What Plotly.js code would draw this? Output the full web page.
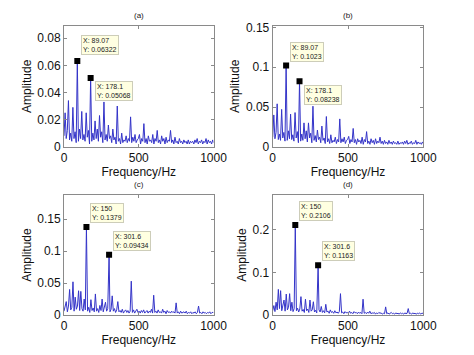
<!DOCTYPE html>
<html>
<head>
<meta charset="utf-8">
<script src="https://cdn.plot.ly/plotly-3.0.1.min.js"></script>
<style>html,body{margin:0;padding:0;background:#fff;}#chart{width:474px;height:355px;}</style>
</head>
<body>
<div id="chart"></div>
<script>
// Frequency grids (Hz)
var freqAB = [0,7.4,14.8,22.3,29.7,37.1,44.5,52.0,59.4,66.8,74.2,81.6,89.07,96.5,103.9,111.3,118.8,126.2,133.6,141.0,148.5,155.9,163.3,170.7,178.1,185.6,193.0,200.4,207.8,215.3,222.7,230.1,237.5,244.9,252.4,259.8,267.2,274.6,282.1,289.5,296.9,304.3,311.7,319.2,326.6,334.0,341.4,348.9,356.3,363.7,371.1,378.5,386.0,393.4,400.8,408.2,415.7,423.1,430.5,437.9,445.4,452.8,460.2,467.6,475.0,482.5,489.9,497.3,504.7,512.2,519.6,527.0,534.4,541.8,549.3,556.7,564.1,571.5,579.0,586.4,593.8,601.2,608.6,616.1,623.5,630.9,638.3,645.8,653.2,660.6,668.0,675.4,682.9,690.3,697.7,705.1,712.6,720.0,727.4,734.8,742.3,749.7,757.1,764.5,771.9,779.4,786.8,794.2,801.6,809.1,816.5,823.9,831.3,838.7,846.2,853.6,861.0,868.4,875.9,883.3,890.7,898.1,905.5,913.0,920.4,927.8,935.2,942.7,950.1,957.5,964.9,972.3,979.8,987.2,994.6,1000];
var ampA = [0.008,0.025,0.006,0.012,0.034,0.005,0.010,0.004,0.029,0.006,0.011,0.003,0.06322,0.004,0.013,0.006,0.026,0.005,0.009,0.004,0.025,0.007,0.012,0.002,0.05068,0.004,0.010,0.005,0.019,0.006,0.013,0.004,0.023,0.007,0.011,0.003,0.033,0.005,0.009,0.004,0.016,0.006,0.008,0.003,0.013,0.005,0.007,0.002,0.030,0.004,0.006,0.002,0.010,0.003,0.005,0.004,0.008,0.003,0.006,0.004,0.022,0.003,0.007,0.004,0.009,0.003,0.005,0.006,0.009,0.002,0.006,0.004,0.017,0.003,0.006,0.002,0.008,0.004,0.005,0.003,0.009,0.002,0.006,0.004,0.012,0.003,0.005,0.002,0.008,0.004,0.006,0.002,0.007,0.003,0.005,0.004,0.012,0.003,0.005,0.002,0.007,0.003,0.004,0.002,0.006,0.003,0.004,0.002,0.005,0.003,0.004,0.002,0.005,0.002,0.004,0.003,0.004,0.002,0.005,0.003,0.006,0.002,0.004,0.003,0.005,0.002,0.004,0.003,0.006,0.002,0.005,0.003,0.004,0.002,0.005,0.003];
var ampB = [0.012,0.040,0.010,0.018,0.054,0.009,0.016,0.008,0.047,0.011,0.018,0.007,0.1023,0.008,0.020,0.010,0.041,0.009,0.015,0.007,0.043,0.011,0.019,0.005,0.08238,0.007,0.016,0.008,0.030,0.010,0.020,0.006,0.030,0.011,0.017,0.005,0.051,0.008,0.014,0.006,0.021,0.009,0.012,0.005,0.026,0.008,0.011,0.004,0.038,0.006,0.010,0.004,0.015,0.005,0.008,0.006,0.012,0.004,0.009,0.006,0.035,0.005,0.010,0.006,0.012,0.004,0.008,0.009,0.013,0.004,0.009,0.006,0.023,0.005,0.009,0.003,0.010,0.006,0.008,0.004,0.012,0.003,0.009,0.006,0.019,0.004,0.007,0.003,0.010,0.005,0.008,0.003,0.010,0.004,0.007,0.005,0.012,0.004,0.007,0.003,0.008,0.004,0.006,0.003,0.008,0.004,0.006,0.003,0.007,0.004,0.005,0.003,0.007,0.003,0.005,0.004,0.006,0.003,0.007,0.004,0.008,0.003,0.005,0.004,0.007,0.003,0.005,0.004,0.008,0.003,0.006,0.004,0.005,0.003,0.006,0.004];
var freqCD = [0,7.5,15,22.5,30,37.5,45,52.5,60,67.5,75,82.5,90,97.5,105,112.5,120,127.5,135,142.5,150,157.5,165,172.5,180,187.5,195,202.5,210,217.5,225,232.5,240,247.5,255,262.5,270,277.5,285,292.5,301.6,307.5,315,322.5,330,337.5,345,352.5,360,367.5,375,382.5,390,397.5,405,412.5,420,427.5,435,442.5,450,457.5,465,472.5,480,487.5,495,502.5,510,517.5,525,532.5,540,547.5,555,562.5,570,577.5,585,592.5,600,607.5,615,622.5,630,637.5,645,652.5,660,667.5,675,682.5,690,697.5,705,712.5,720,727.5,735,742.5,750,757.5,765,772.5,780,787.5,795,802.5,810,817.5,825,832.5,840,847.5,855,862.5,870,877.5,885,892.5,900,907.5,915,922.5,930,937.5,945,952.5,960,967.5,975,982.5,990,997.5,1000];
var ampC = [0.006,0.012,0.021,0.005,0.014,0.040,0.008,0.012,0.052,0.006,0.028,0.009,0.014,0.038,0.007,0.037,0.010,0.006,0.025,0.008,0.1379,0.006,0.012,0.004,0.024,0.007,0.011,0.005,0.033,0.006,0.010,0.004,0.015,0.007,0.025,0.005,0.012,0.020,0.006,0.010,0.09434,0.005,0.009,0.030,0.006,0.010,0.004,0.008,0.021,0.005,0.007,0.004,0.009,0.003,0.006,0.008,0.004,0.007,0.003,0.006,0.053,0.004,0.008,0.003,0.006,0.009,0.004,0.006,0.003,0.007,0.004,0.008,0.003,0.005,0.007,0.003,0.006,0.004,0.009,0.003,0.031,0.004,0.006,0.003,0.008,0.004,0.005,0.003,0.009,0.004,0.006,0.002,0.007,0.004,0.005,0.003,0.006,0.004,0.005,0.003,0.019,0.003,0.005,0.002,0.006,0.003,0.004,0.005,0.003,0.006,0.002,0.004,0.003,0.005,0.002,0.004,0.003,0.005,0.002,0.004,0.014,0.003,0.004,0.002,0.005,0.003,0.004,0.002,0.004,0.003,0.005,0.002,0.004,0.003,0.004];
var ampD = [0.010,0.022,0.008,0.030,0.012,0.060,0.015,0.057,0.010,0.020,0.035,0.009,0.049,0.012,0.018,0.050,0.010,0.030,0.008,0.015,0.2106,0.010,0.016,0.007,0.014,0.043,0.009,0.013,0.006,0.037,0.010,0.014,0.006,0.035,0.009,0.012,0.031,0.007,0.011,0.005,0.1163,0.012,0.007,0.020,0.006,0.010,0.005,0.025,0.007,0.009,0.004,0.012,0.006,0.008,0.004,0.010,0.005,0.007,0.004,0.008,0.050,0.005,0.007,0.003,0.008,0.005,0.006,0.004,0.009,0.004,0.006,0.003,0.008,0.005,0.006,0.003,0.007,0.004,0.006,0.003,0.037,0.004,0.006,0.003,0.007,0.004,0.009,0.003,0.005,0.004,0.006,0.002,0.005,0.003,0.006,0.004,0.005,0.002,0.004,0.003,0.019,0.003,0.005,0.002,0.004,0.006,0.003,0.004,0.002,0.005,0.003,0.004,0.002,0.005,0.003,0.004,0.002,0.005,0.003,0.004,0.015,0.003,0.004,0.002,0.005,0.003,0.004,0.002,0.004,0.003,0.005,0.002,0.004,0.003,0.004];

// Data cursor points
var tipXA = [89.07, 178.1], tipYA = [0.06322, 0.05068];
var tipXB = [89.07, 178.1], tipYB = [0.1023, 0.08238];
var tipXC = [150, 301.6],  tipYC = [0.1379, 0.09434];
var tipXD = [150, 301.6],  tipYD = [0.2106, 0.1163];

var panelLabels = ['(a)', '(b)', '(c)', '(d)'];
var xTicks = [0, 500, 1000];
var yRanges = [[0, 0.089], [0, 0.152], [0, 0.188], [0, 0.281]];
var yDticks = [0.02, 0.05, 0.05, 0.1];

var FONT = 'Liberation Sans, Arial, sans-serif';
var LINE = '#3434c8';
var AXC = '#8a8a8a';

var panels = [
  {fx: freqAB, fy: ampA, tx: tipXA, ty: tipYA, ys: [5.5, -3.5], ya: ['bottom', 'top']},
  {fx: freqAB, fy: ampB, tx: tipXB, ty: tipYB, ys: [3, -3.5], ya: ['bottom', 'top']},
  {fx: freqCD, fy: ampC, tx: tipXC, ty: tipYC, ys: [3.5, 4], ya: ['bottom', 'bottom']},
  {fx: freqCD, fy: ampD, tx: tipXD, ty: tipYD, ys: [4, 4.5], ya: ['bottom', 'bottom']}
];

var xDomains = [[64/474, 213.5/474], [272.7/474, 423.3/474]];
var yDomains = [[1 - 146.7/355, 1 - 26/355], [1 - 315/355, 1 - 195/355]];

var data = [];
var layout = {
  width: 474, height: 355,
  margin: {l: 0, r: 0, t: 0, b: 0},
  paper_bgcolor: '#fff', plot_bgcolor: '#fff',
  showlegend: false,
  font: {family: FONT, color: '#111', size: 12},
  annotations: []
};

panels.forEach(function (p, i) {
  var n = i + 1;
  var xa = n === 1 ? 'x' : 'x' + n;
  var ya = n === 1 ? 'y' : 'y' + n;
  data.push({x: p.fx, y: p.fy, type: 'scatter', mode: 'lines', xaxis: xa, yaxis: ya,
    line: {color: LINE, width: 1}, hoverinfo: 'skip'});
  data.push({x: p.tx, y: p.ty, type: 'scatter', mode: 'markers', xaxis: xa, yaxis: ya,
    marker: {symbol: 'square', size: 6, color: '#000'}, hoverinfo: 'skip'});

  var axBase = {
    showline: true, linecolor: AXC, linewidth: 1, mirror: 'ticks',
    ticks: 'inside', ticklen: 3, tickcolor: AXC, showgrid: false, zeroline: false,
    tickfont: {family: FONT, size: 12, color: '#111'}, fixedrange: true
  };
  var xax = Object.assign({}, axBase, {
    domain: xDomains[i % 2], range: [0, 1000], tickvals: xTicks, ticktext: xTicks.map(String),
    anchor: ya, title: {text: 'Frequency/Hz', standoff: 2, font: {family: FONT, size: 12, color: '#111'}}
  });
  var yax = Object.assign({}, axBase, {
    domain: yDomains[Math.floor(i / 2)], range: yRanges[i], dtick: yDticks[i], tick0: 0,
    anchor: xa, title: {text: 'Amplitude', standoff: 3, font: {family: FONT, size: 12, color: '#111'}}
  });
  layout[n === 1 ? 'xaxis' : 'xaxis' + n] = xax;
  layout[n === 1 ? 'yaxis' : 'yaxis' + n] = yax;

  layout.annotations.push({
    xref: xa + ' domain', yref: ya + ' domain', x: 0.5, y: 1, yshift: 11,
    xanchor: 'center', yanchor: 'middle', showarrow: false,
    text: panelLabels[i], font: {family: FONT, size: 8, color: '#222'}
  });
  p.tx.forEach(function (tx, j) {
    layout.annotations.push({
      xref: xa, yref: ya, x: tx, y: p.ty[j], xanchor: 'left', yanchor: p.ya[j],
      xshift: 4, yshift: p.ys[j], showarrow: false,
      text: 'X: ' + String(tx) + '<br>Y: ' + String(p.ty[j]), align: 'left',
      font: {family: FONT, size: 7, color: '#222'},
      bgcolor: 'rgb(255,255,225)', bordercolor: 'rgb(205,205,185)', borderwidth: 1, borderpad: 1
    });
  });
});

Plotly.newPlot('chart', data, layout, {staticPlot: true, displayModeBar: false});
</script>
</body>
</html>
